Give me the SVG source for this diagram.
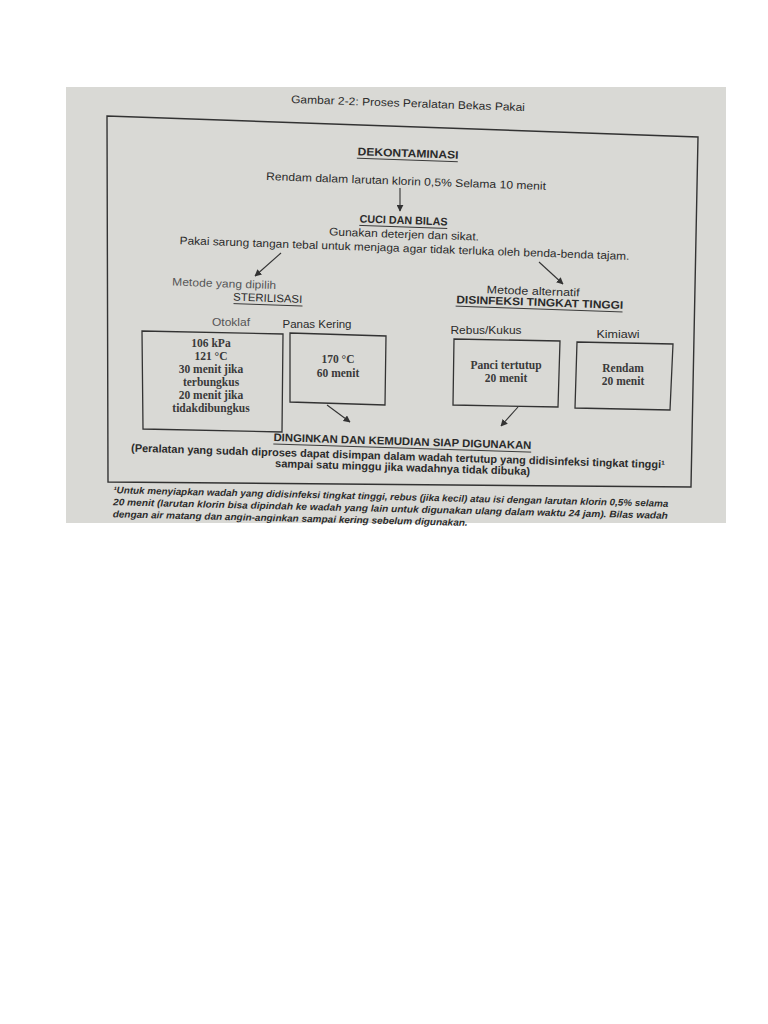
<svg xmlns="http://www.w3.org/2000/svg" width="768" height="1024" viewBox="0 0 768 1024">
<defs>
<style>
.t{font-family:"Liberation Sans",Arial,sans-serif;font-size:11px;fill:#2b2b2b}
.g{fill:#555}
.b{font-weight:bold}
.s{font-family:"Liberation Serif","Times New Roman",serif;font-size:11.5px;font-weight:bold;fill:#3a3a3a;text-anchor:middle}
.f{font-family:"Liberation Sans",Arial,sans-serif;font-size:9.5px;font-style:italic;font-weight:bold;fill:#2b2b2b}
.m{text-anchor:middle}
.u{stroke:#2b2b2b;stroke-width:0.9}
.box{fill:none;stroke:#333;stroke-width:1.3}
.ar{stroke:#333;stroke-width:1.1;fill:none;marker-end:url(#ah)}
</style>
<marker id="ah" viewBox="0 0 10 10" refX="9" refY="5" markerWidth="7" markerHeight="7" orient="auto" markerUnits="userSpaceOnUse">
<path d="M0,0 L10,5 L0,10 z" fill="#333"/>
</marker>
</defs>
<rect width="768" height="1024" fill="#ffffff"/>
<rect x="66" y="87" width="660" height="436" fill="#d9d9d5"/>
<polygon points="107,116 698,137 691,487 108,482" fill="none" stroke="#333" stroke-width="1.4"/>

<g id="title" transform="rotate(2 408 103)">
<text class="t m" x="408" y="107" font-size="13" textLength="234" lengthAdjust="spacingAndGlyphs">Gambar 2-2: Proses Peralatan Bekas Pakai</text>
</g>

<g id="dekontaminasi" transform="rotate(2 408 155)">
<text class="t b m" x="408" y="157" textLength="101" lengthAdjust="spacingAndGlyphs">DEKONTAMINASI</text>
<line class="u" x1="357" y1="160" x2="458" y2="160"/>
<text class="t m" x="407" y="185" textLength="280" lengthAdjust="spacingAndGlyphs">Rendam dalam larutan klorin 0,5% Selama 10 menit</text>
</g>

<g id="cuci" transform="rotate(2 405 235)">
<text class="t b m" x="403" y="224" textLength="88" lengthAdjust="spacingAndGlyphs">CUCI DAN BILAS</text>
<line class="u" x1="359" y1="227" x2="447" y2="227"/>
<text class="t m" x="404" y="238" textLength="150" lengthAdjust="spacingAndGlyphs">Gunakan deterjen dan sikat.</text>
<text class="t m" x="405" y="252" textLength="450" lengthAdjust="spacingAndGlyphs">Pakai sarung tangan tebal untuk menjaga agar tidak terluka oleh benda-benda tajam.</text>
</g>

<g id="sterilisasi" transform="rotate(2 245 290)">
<text class="t g m" x="224" y="288" textLength="104" lengthAdjust="spacingAndGlyphs">Metode yang dipilih</text>
<text class="t m" x="268" y="301" textLength="69" lengthAdjust="spacingAndGlyphs">STERILISASI</text>
<line class="u" x1="234" y1="304" x2="303" y2="304"/>
</g>

<g id="disinfeksi" transform="rotate(2 538 297)">
<text class="t m" x="533" y="295" textLength="93" lengthAdjust="spacingAndGlyphs">Metode alternatif</text>
<text class="t b m" x="540" y="306" textLength="167" lengthAdjust="spacingAndGlyphs">DISINFEKSI TINGKAT TINGGI</text>
<line class="u" x1="456" y1="309" x2="623" y2="309"/>
</g>

<g id="otoklaf">
<text class="t g m" x="231" y="326" textLength="38" lengthAdjust="spacingAndGlyphs">Otoklaf</text>
<polygon class="box" points="142,331 283,334 282,432 143,429"/>
<text class="s" x="211" y="347">106 kPa</text>
<text class="s" x="211" y="360">121 °C</text>
<text class="s" x="211" y="373">30 menit jika</text>
<text class="s" x="211" y="386">terbungkus</text>
<text class="s" x="211" y="399">20 menit jika</text>
<text class="s" x="211" y="412">tidakdibungkus</text>
</g>

<g id="panas-kering">
<text class="t m" x="317" y="328" textLength="69" lengthAdjust="spacingAndGlyphs">Panas Kering</text>
<polygon class="box" points="290,333 386,336 385,405 290,402"/>
<text class="s" x="338" y="363">170 °C</text>
<text class="s" x="338" y="377">60 menit</text>
</g>

<g id="rebus-kukus">
<text class="t m" x="486" y="334" textLength="71" lengthAdjust="spacingAndGlyphs">Rebus/Kukus</text>
<polygon class="box" points="454,339 560,341 558,407 453,405"/>
<text class="s" x="506" y="369">Panci tertutup</text>
<text class="s" x="506" y="382">20 menit</text>
</g>

<g id="kimiawi">
<text class="t m" x="618" y="338" textLength="43" lengthAdjust="spacingAndGlyphs">Kimiawi</text>
<polygon class="box" points="577,342 673,344 670,410 575,408"/>
<text class="s" x="623" y="372">Rendam</text>
<text class="s" x="623" y="385">20 menit</text>
</g>

<g id="dinginkan" transform="rotate(1.8 400 456)">
<text class="t b m" x="402" y="445" textLength="258" lengthAdjust="spacingAndGlyphs">DINGINKAN DAN KEMUDIAN SIAP DIGUNAKAN</text>
<line class="u" x1="273" y1="448" x2="531" y2="448"/>
<text class="t b m" x="398" y="460" textLength="534" lengthAdjust="spacingAndGlyphs">(Peralatan yang sudah diproses dapat disimpan dalam wadah tertutup yang didisinfeksi tingkat tinggi¹</text>
<text class="t b m" x="403" y="471" textLength="255" lengthAdjust="spacingAndGlyphs">sampai satu minggu jika wadahnya tidak dibuka)</text>
</g>

<g id="footnote" transform="rotate(1.4 390 508)">
<text class="f" x="113" y="500" textLength="555" lengthAdjust="spacingAndGlyphs">¹Untuk menyiapkan wadah yang didisinfeksi tingkat tinggi, rebus (jika kecil) atau isi dengan larutan klorin 0,5% selama</text>
<text class="f" x="113" y="512" textLength="555" lengthAdjust="spacingAndGlyphs">20 menit (larutan klorin bisa dipindah ke wadah yang lain untuk digunakan ulang dalam waktu 24 jam). Bilas wadah</text>
<text class="f" x="113" y="524" textLength="355" lengthAdjust="spacingAndGlyphs">dengan air matang dan angin-anginkan sampai kering sebelum digunakan.</text>
</g>

<g id="connectors">
<line class="ar" x1="400" y1="188" x2="400" y2="211"/>
<line class="ar" x1="281" y1="253" x2="255" y2="276"/>
<line class="ar" x1="539" y1="262" x2="563" y2="284"/>
<line class="ar" x1="327" y1="405" x2="350" y2="422"/>
<line class="ar" x1="518" y1="407" x2="501" y2="426"/>
</g>
</svg>
